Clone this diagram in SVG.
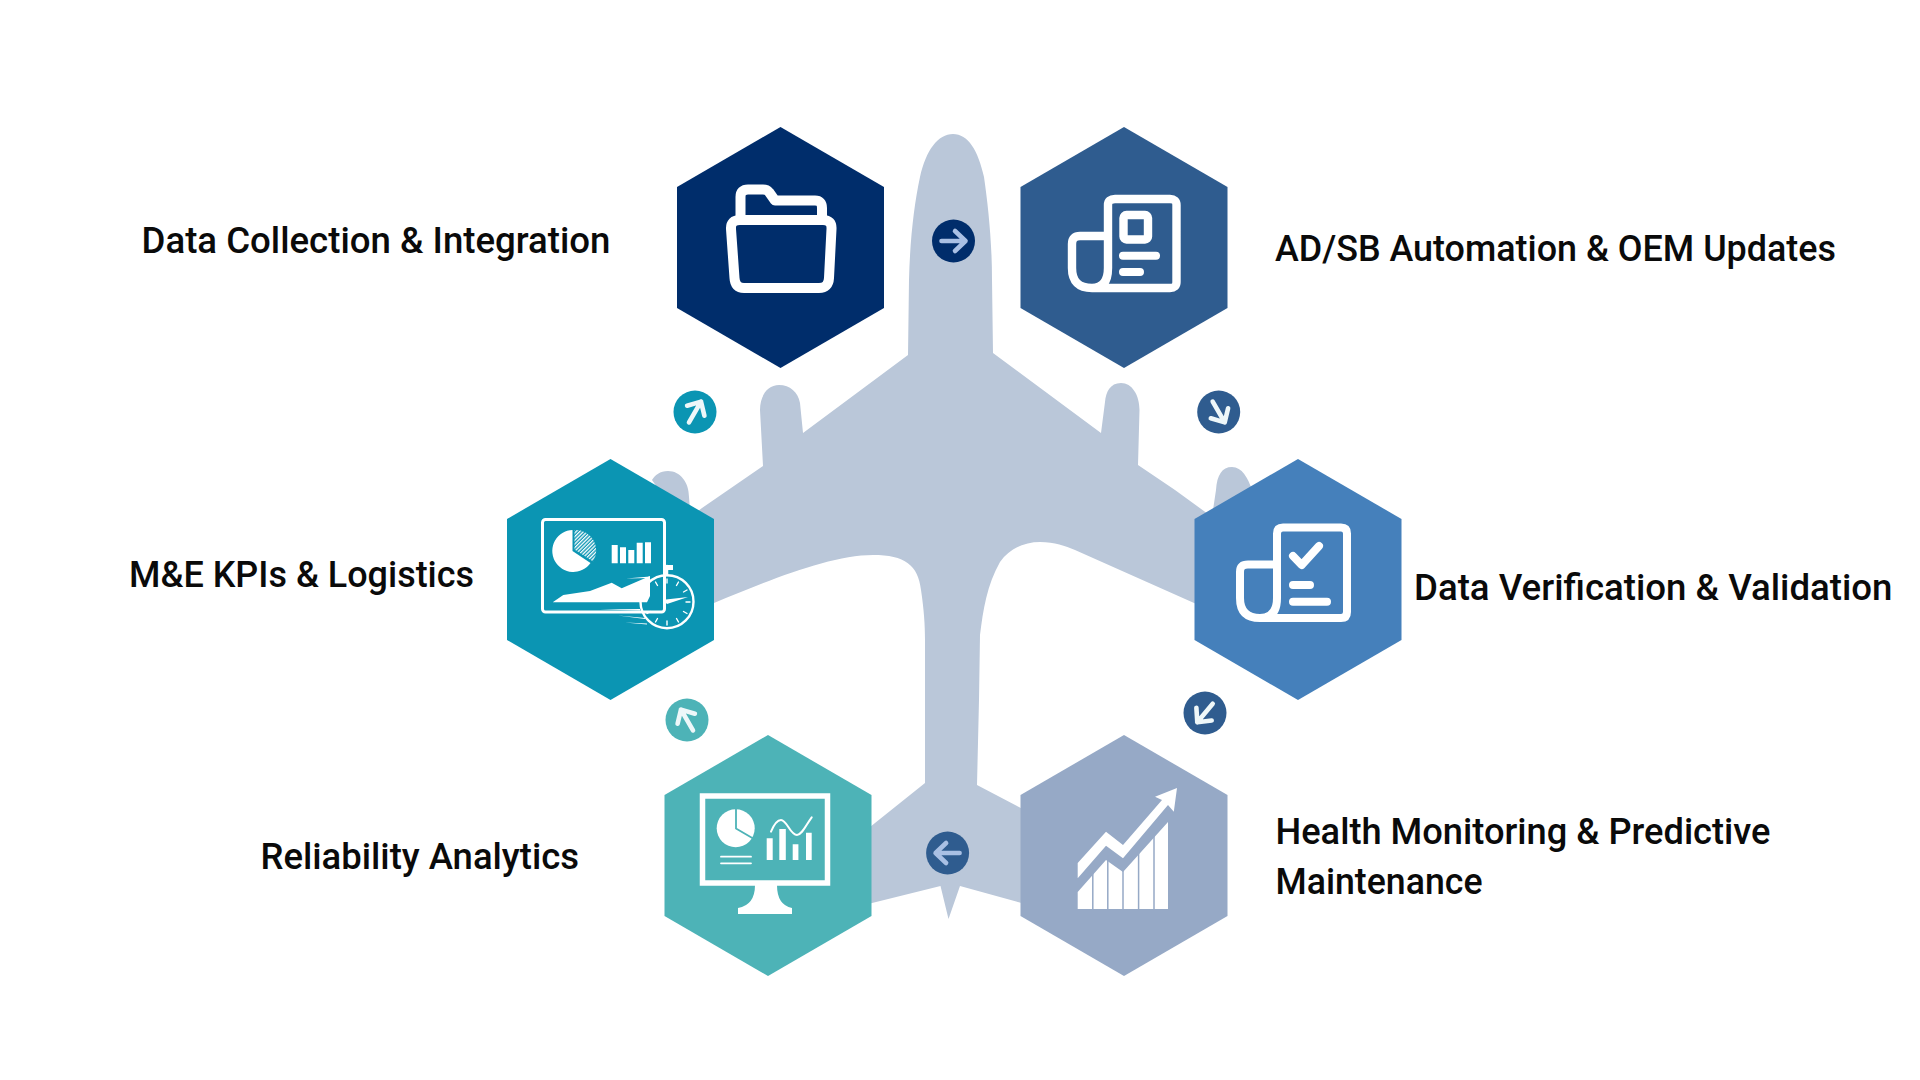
<svg xmlns="http://www.w3.org/2000/svg" width="1920" height="1080" viewBox="0 0 1920 1080">
<style>
.lbl{font-family:"Roboto","Liberation Sans",sans-serif;font-weight:500;font-size:36px;fill:#0a0a0a}
.ln{fill:none;stroke:#fff;stroke-linecap:round;stroke-linejoin:round}
.w{fill:#fff}
.ar{fill:none;stroke-width:4.6;stroke-linecap:round;stroke-linejoin:round}
.lt{stroke:#a9c0e4}
.wt{stroke:#eef7f9}
</style>
<defs>
<polygon id="hex" points="0,-120.5 103.5,-60.5 103.5,60.5 0,120.5 -103.5,60.5 -103.5,-60.5"/>
<g id="arrow"><path d="M-12,0H12M1.5,-10L12,0L1.5,10"/></g>
<pattern id="hatch" width="2.6" height="2.6" patternUnits="userSpaceOnUse" patternTransform="rotate(45)"><rect width="1.3" height="2.6" fill="#fff"/></pattern>
</defs>
<rect width="1920" height="1080" fill="#fff"/>
<g id="plane" fill="#bac7d9">
<path d="M953,134C938,134 926,150 920,177C914,205 910,240 909,280L908,355L803,433L800,403C798,392 790,385 779,385C768,385 760,395 760,410L763,466L702,508L680,525L680,612L714,603C770,580 830,555 873,555C905,555 918,565 921,590C924,610 925,625 925,640L925,783L860,835L860,906L940.5,886L948.5,919L960,886L1040,908L1040,818L977,785L979,700L980,635C983,610 987,585 1000,562C1010,548 1025,542 1040,542C1055,542 1065,546 1075,550L1230,619L1230,530L1175,490L1138,465L1139.5,410C1139.5,395 1132,383 1121,383C1110,383 1106,392 1105,402L1101,433L993,353L992,280C992,240 988,205 984,177C978,150 968,134 953,134Z"/>
<path d="M668,471C660,471 655,475 652,480L680,520L690,510L689,497C689,482 680,471 668,471Z"/>
<path d="M1232,467C1222,467 1217,475 1216,490L1213,510L1240,510L1252,490C1248,478 1242,467 1232,467Z"/>
</g>
<g id="node-collection">
<use href="#hex" x="780.5" y="247.5" fill="#002d6b"/>
<path class="ln" stroke-width="10" d="M740.5,220V197Q740.5,189.5 748,189.5H763Q767,189.5 769,192L775,200.5H815Q822,200.5 822,208V220"/>
<path class="ln" stroke-width="10" d="M740,220H823Q832,220 831.5,229L829,278Q828.5,288 819,288H744Q735,288 734.5,278L731,229Q730.5,220 740,220Z"/>
<text class="lbl" x="141.5" y="252.5" textLength="469" lengthAdjust="spacingAndGlyphs">Data Collection &amp; Integration</text>
</g>
<g id="node-adsb">
<use href="#hex" x="1124" y="247.5" fill="#2f5c8f"/>
<path class="ln" stroke-width="8.4" d="M1092,288H1170Q1176.5,288 1176.5,282V205Q1176.5,199 1170,199H1115Q1108,199 1108,205V268Q1108,288 1092,288Q1072,288 1072,268V244Q1072,236 1080,236H1108"/>
<rect class="ln" stroke-width="8.4" x="1123.5" y="215" width="24.5" height="24.5" rx="3"/>
<path class="ln" stroke-width="8" d="M1123,255.7H1156M1123,272H1140"/>
<text class="lbl" x="1275" y="261" textLength="561" lengthAdjust="spacingAndGlyphs">AD/SB Automation &amp; OEM Updates</text>
</g>
<g id="node-verification">
<use href="#hex" x="1298" y="579.5" fill="#4580bb"/>
<path class="ln" stroke-width="8" d="M1260,618H1341Q1347,618 1347,612V533.5Q1347,527.5 1341,527.5H1283Q1277,527.5 1277,533.5V598Q1277,618 1260,618Q1240,618 1240,598V572Q1240,564.5 1248,564.5H1277"/>
<path class="ln" stroke-width="8" d="M1293,556L1301.7,565L1319,546M1293,585H1310M1293,601.7H1327"/>
<text class="lbl" x="1414" y="599.5" textLength="478.5" lengthAdjust="spacingAndGlyphs">Data Verification &amp; Validation</text>
</g>
<g id="node-health">
<use href="#hex" x="1124" y="855.5" fill="#96a9c6"/>
<polygon class="w" points="1077.7,892 1106,860 1123,872 1168,822 1168,909 1077.7,909"/>
<path fill="none" stroke="#96a9c6" stroke-width="1.5" d="M1092.8,870V909M1107.8,855V909M1123,865V909M1138.6,850V909M1154,830V909"/>
<polygon class="w" points="1077.7,863 1106,831.7 1123,845 1162,800 1155,796.7 1177,788 1173.8,811.7 1168,805 1123,858.3 1106,845.7 1077.7,878.3"/>
<text class="lbl" x="1275.5" y="843.5" textLength="495" lengthAdjust="spacingAndGlyphs">Health Monitoring &amp; Predictive</text>
<text class="lbl" x="1275.5" y="893.5" textLength="207" lengthAdjust="spacingAndGlyphs">Maintenance</text>
</g>
<g id="node-reliability">
<use href="#hex" x="768" y="855.5" fill="#4db3b7"/>
<rect x="702.5" y="796" width="125" height="87" fill="none" stroke="#fff" stroke-width="5.5"/>
<path class="w" d="M755,885H777Q777,905 792,908V914H738V908Q755,905 755,885Z"/>
<circle class="w" cx="735.7" cy="828.3" r="19"/>
<path fill="none" stroke="#4db3b7" stroke-width="1.8" d="M736,809V828.5L754,839"/>
<path class="ln" stroke-width="1.8" stroke-linecap="butt" d="M721,856.7H751M721,863.3H751"/>
<path class="w" d="M766.7,838.3h6v21.7h-6zM779.3,829h6.5v31h-6.5zM792.7,844.3h5.7v15.7h-5.7zM806,832.7h5.7v27.3h-5.7z"/>
<path class="ln" stroke-width="2" d="M771,831.7C775,822 778,820 781,820C787,820 790,835 797,835C802,835 806,825 811.7,817.3"/>
<text class="lbl" x="260.5" y="868.5" textLength="318.5" lengthAdjust="spacingAndGlyphs">Reliability Analytics</text>
</g>
<g id="node-kpis">
<use href="#hex" x="610.5" y="579.5" fill="#0b95b3"/>
<rect x="542.5" y="519.5" width="122" height="92.5" rx="3" fill="none" stroke="#fff" stroke-width="3"/>
<path class="w" d="M572.5,551V530A21,21 0 1 0 590.5,563Z"/>
<path fill="url(#hatch)" d="M574.5,549.5V530A20.5,20.5 0 0 1 593,561.5Z"/>
<path class="w" d="M611.7,545h6v18.3h-6zM620,547.3h6v16h-6zM628.3,550h6v13.3h-6zM636.7,542.7h6v20.6h-6zM645,542.3h6v21h-6z"/>
<polygon class="w" points="552.7,602.3 563.3,595 590,591 611.7,582.7 621.7,588.3 650,576 650,596 647,602.3"/>
<path class="w" d="M626,578.5L650,576.5V578ZM600,609.5L640,609V610.5ZM618,615.5L645,618V619ZM625,622.5L647,623.5V624.5Z"/>
<circle cx="667" cy="601.7" r="26.5" fill="none" stroke="#fff" stroke-width="2.4"/>
<path class="ln" stroke-width="2.5" stroke-linecap="butt" d="M667,575V566"/>
<rect class="w" x="665" y="565" width="8" height="5"/>
<path class="w" d="M666,599.5L688,597L667,604L665,602Z"/>
<path class="ln" stroke-width="1.4" stroke-linecap="butt" d="M667,579V583M678.5,582L676.5,585.5M687,590L683.5,592M690,602H686M687,613.5L683.5,611.5M678.5,622L676.5,618.5M667,625V621M655.5,622L657.5,618.5M647,613.5L650.5,611.5M655.5,582L657.5,585.5"/>
<text class="lbl" x="129" y="586.5" textLength="345" lengthAdjust="spacingAndGlyphs">M&amp;E KPIs &amp; Logistics</text>
</g>
<g id="connectors">
<g id="flow-1"><circle cx="953.5" cy="241" r="21.5" fill="#002d6b"/><use href="#arrow" class="ar lt" transform="translate(953.5 241)"/></g>
<g id="flow-2"><circle cx="1218.7" cy="412" r="21.5" fill="#2f5c8f"/><use href="#arrow" class="ar wt" transform="translate(1218.7 412) rotate(60)"/></g>
<g id="flow-3"><circle cx="1205" cy="713" r="21.5" fill="#2f5c8f"/><use href="#arrow" class="ar wt" transform="translate(1205 713) rotate(130)"/></g>
<g id="flow-4"><circle cx="947.6" cy="853" r="21.5" fill="#2f5c8f"/><use href="#arrow" class="ar lt" transform="translate(947.6 853) rotate(180)"/></g>
<g id="flow-5"><circle cx="687" cy="720" r="21.5" fill="#4db3b7"/><use href="#arrow" class="ar wt" transform="translate(687 720) rotate(-120)"/></g>
<g id="flow-6"><circle cx="695" cy="412" r="21.5" fill="#0b95b3"/><use href="#arrow" class="ar wt" transform="translate(695 412) rotate(-60)"/></g>
</g>
</svg>
